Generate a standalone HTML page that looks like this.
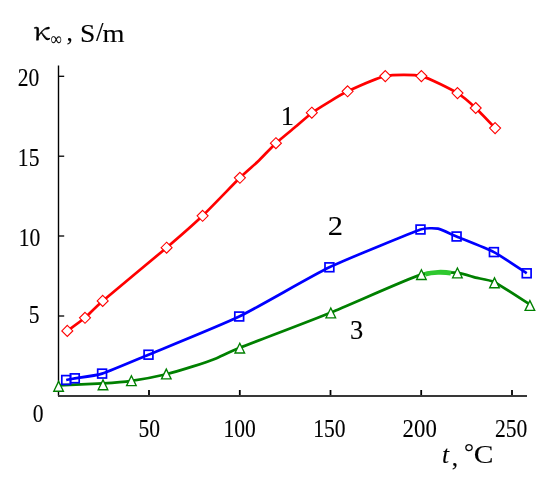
<!DOCTYPE html>
<html><head><meta charset="utf-8">
<style>
html,body{margin:0;padding:0;background:#fff;}
body{width:550px;height:483px;overflow:hidden;position:relative;}
svg{position:absolute;left:0;top:0;}
.ax{stroke:#000;stroke-width:1.4;fill:none;}
.ax2{stroke:#383838;stroke-width:2;fill:none;}
.tk{stroke:#000;stroke-width:1.3;fill:none;}
.tk2{stroke:#000;stroke-width:1.8;fill:none;}
.ln{fill:none;stroke-width:2.7;stroke-linejoin:round;}
.dm{fill:#fff;stroke:#ff0000;stroke-width:1.1;}
.sq{fill:none;stroke:#0000ff;stroke-width:1.7;}
.tr{fill:#fff;stroke:#008000;stroke-width:1.35;stroke-linejoin:miter;}
text{font-family:"Liberation Serif","Times New Roman",serif;fill:#000;stroke:#000;stroke-width:0.1;}
</style></head><body>
<svg width="550" height="483" viewBox="0 0 550 483">
<path d="M58.5,65.5 V396" class="ax"/>
<path d="M58,396 H527" class="ax2"/>
<path d="M58,76.3 H64.2" class="tk"/>
<path d="M58,156.2 H64.2" class="tk"/>
<path d="M58,236.0 H64.2" class="tk"/>
<path d="M58,316.0 H64.2" class="tk"/>
<path d="M149.0,390 V395" class="tk2"/>
<path d="M239.8,390 V395" class="tk2"/>
<path d="M330.5,390 V395" class="tk2"/>
<path d="M421.2,390 V395" class="tk2"/>
<path d="M512.0,390 V395" class="tk2"/>
<path d="M67.30,330.90 C69.07,329.59 81.46,320.80 85.00,317.80 C88.54,314.80 94.54,307.91 102.70,300.90 C110.86,293.89 156.61,256.21 166.60,247.70 C176.59,239.19 195.27,222.79 202.60,215.80 C209.93,208.81 234.37,183.23 239.90,177.80 C245.43,172.37 254.30,164.96 257.90,161.50 C261.50,158.04 272.04,146.75 275.90,143.20 C279.76,139.65 292.91,129.02 296.50,126.00 C300.09,122.98 308.65,115.34 311.80,113.00 C314.95,110.66 324.42,104.77 328.00,102.60 C331.58,100.43 341.87,93.95 347.60,91.30 C353.33,88.65 377.92,77.62 385.30,76.10 C392.68,74.58 414.18,74.40 421.40,76.10 C428.62,77.80 452.07,89.91 457.50,93.10 C462.93,96.29 471.94,104.50 475.70,108.00 C479.46,111.50 493.16,126.09 495.10,128.10" class="ln" stroke="#ff0000"/>
<path d="M66.20,380.00 C67.06,379.83 71.21,378.94 74.80,378.30 C78.39,377.66 94.73,375.96 102.10,373.60 C109.47,371.24 134.79,360.41 148.50,354.70 C162.21,348.99 221.11,325.24 239.20,316.50 C257.29,307.76 311.27,276.00 329.40,267.30 C347.53,258.60 416.16,231.04 420.50,229.50 C424.84,227.96 434.39,228.00 438.00,228.70 C441.61,229.40 451.01,234.16 456.60,236.50 C462.19,238.84 486.89,248.42 493.90,252.10 C500.91,255.78 523.42,271.18 526.70,273.30" class="ln" stroke="#0000ff"/>
<path d="M58.60,385.30 C63.04,385.11 95.72,383.84 103.00,383.40 C110.28,382.96 125.07,381.82 131.40,380.90 C137.73,379.98 160.14,375.65 166.30,374.20 C172.46,372.75 188.03,367.98 193.00,366.40 C197.97,364.82 211.32,360.26 216.00,358.40 C220.68,356.54 228.35,352.37 239.80,347.80 C251.25,343.23 312.34,320.04 330.50,312.70 C348.66,305.36 408.71,278.38 421.40,274.40 C434.09,270.42 451.99,272.58 457.40,272.90 C462.81,273.22 471.79,276.67 475.50,277.60 C479.21,278.53 489.06,279.50 494.50,282.20 C499.94,284.90 526.36,302.36 529.90,304.60" class="ln" stroke="#008000"/>
<path d="M425,274.2 C432,271.9 444,271.7 451,273.2" fill="none" stroke="#2ec82e" stroke-width="4.8" stroke-linecap="butt"/>
<path d="M67.30,325.40 L72.80,330.90 L67.30,336.40 L61.80,330.90 Z" class="dm"/>
<path d="M85.00,312.30 L90.50,317.80 L85.00,323.30 L79.50,317.80 Z" class="dm"/>
<path d="M102.70,295.40 L108.20,300.90 L102.70,306.40 L97.20,300.90 Z" class="dm"/>
<path d="M166.60,242.20 L172.10,247.70 L166.60,253.20 L161.10,247.70 Z" class="dm"/>
<path d="M202.60,210.30 L208.10,215.80 L202.60,221.30 L197.10,215.80 Z" class="dm"/>
<path d="M239.90,172.30 L245.40,177.80 L239.90,183.30 L234.40,177.80 Z" class="dm"/>
<path d="M275.90,137.70 L281.40,143.20 L275.90,148.70 L270.40,143.20 Z" class="dm"/>
<path d="M311.80,107.20 L317.30,112.70 L311.80,118.20 L306.30,112.70 Z" class="dm"/>
<path d="M347.60,85.80 L353.10,91.30 L347.60,96.80 L342.10,91.30 Z" class="dm"/>
<path d="M385.30,70.60 L390.80,76.10 L385.30,81.60 L379.80,76.10 Z" class="dm"/>
<path d="M421.40,70.60 L426.90,76.10 L421.40,81.60 L415.90,76.10 Z" class="dm"/>
<path d="M457.50,87.60 L463.00,93.10 L457.50,98.60 L452.00,93.10 Z" class="dm"/>
<path d="M475.70,102.50 L481.20,108.00 L475.70,113.50 L470.20,108.00 Z" class="dm"/>
<path d="M495.10,122.60 L500.60,128.10 L495.10,133.60 L489.60,128.10 Z" class="dm"/>
<rect x="61.80" y="375.60" width="8.80" height="8.80" class="sq"/>
<rect x="70.40" y="373.90" width="8.80" height="8.80" class="sq"/>
<rect x="97.70" y="369.20" width="8.80" height="8.80" class="sq"/>
<rect x="144.10" y="350.30" width="8.80" height="8.80" class="sq"/>
<rect x="234.80" y="312.10" width="8.80" height="8.80" class="sq"/>
<rect x="325.00" y="262.90" width="8.80" height="8.80" class="sq"/>
<rect x="416.10" y="225.10" width="8.80" height="8.80" class="sq"/>
<rect x="452.20" y="232.10" width="8.80" height="8.80" class="sq"/>
<rect x="489.50" y="247.70" width="8.80" height="8.80" class="sq"/>
<rect x="522.30" y="268.90" width="8.80" height="8.80" class="sq"/>
<path d="M58.60,381.40 L63.40,391.20 L53.80,391.20 Z" class="tr"/>
<path d="M103.00,379.90 L107.80,389.70 L98.20,389.70 Z" class="tr"/>
<path d="M131.40,375.80 L136.20,385.60 L126.60,385.60 Z" class="tr"/>
<path d="M166.30,369.10 L171.10,378.90 L161.50,378.90 Z" class="tr"/>
<path d="M239.80,343.20 L244.60,353.00 L235.00,353.00 Z" class="tr"/>
<path d="M330.80,308.00 L335.60,317.80 L326.00,317.80 Z" class="tr"/>
<path d="M421.40,269.70 L426.20,279.50 L416.60,279.50 Z" class="tr"/>
<path d="M457.40,268.00 L462.20,277.80 L452.60,277.80 Z" class="tr"/>
<path d="M494.50,277.90 L499.30,287.70 L489.70,287.70 Z" class="tr"/>
<path d="M529.90,300.60 L534.70,310.40 L525.10,310.40 Z" class="tr"/>
<text x="0" y="0" font-size="24.5" text-anchor="end" transform="translate(39.30 86.00) scale(0.88 1)">20</text>
<text x="0" y="0" font-size="24.5" text-anchor="end" transform="translate(39.40 165.50) scale(0.88 1)">15</text>
<text x="0" y="0" font-size="24.5" text-anchor="end" transform="translate(40.30 245.50) scale(0.88 1)">10</text>
<text x="0" y="0" font-size="24.5" text-anchor="end" transform="translate(39.40 323.20) scale(0.88 1)">5</text>
<text x="0" y="0" font-size="24.5" text-anchor="end" transform="translate(43.60 421.90) scale(0.88 1)">0</text>
<text x="0" y="0" font-size="24.5" text-anchor="middle" transform="translate(149.30 436.90) scale(0.88 1)">50</text>
<text x="0" y="0" font-size="24.5" text-anchor="middle" transform="translate(239.60 436.90) scale(0.88 1)">100</text>
<text x="0" y="0" font-size="24.5" text-anchor="middle" transform="translate(329.40 436.90) scale(0.88 1)">150</text>
<text x="0" y="0" font-size="24.5" text-anchor="middle" transform="translate(419.70 436.90) scale(0.93 1)">200</text>
<text x="0" y="0" font-size="24.5" text-anchor="middle" transform="translate(511.10 436.90) scale(0.88 1)">250</text>
<text x="280.7" y="124.9" font-size="26.5">1</text>
<text font-size="26.5" style="stroke-width:0.1" transform="translate(327.85 235.4) scale(1.15 1)">2</text>
<text x="349.9" y="338.5" font-size="26.5" style="stroke-width:0.1">3</text>
<text font-size="24" style="font-family:'Noto Serif CJK SC','Liberation Serif',serif;stroke-width:0.35" transform="translate(33.13 39.8) scale(1.25 1)">κ</text>
<text font-size="18.5" transform="translate(50.61 44.9) scale(0.84 1)">∞</text>
<text font-size="25.5" x="66.5" y="41.2">,</text>
<text font-size="25.5" transform="translate(80.05 41.9) scale(1.08 1)">S</text>
<text font-size="27" x="96.1" y="41.4">/</text>
<text font-size="26" transform="translate(102.4 41.7) scale(1.09 1)">m</text>
<text font-size="25.5" x="442" y="462.9" font-style="italic">t</text>
<text font-size="25.5" x="451.7" y="465.6">,</text>
<text font-size="25" x="464" y="459.8">°</text>
<text font-size="25" transform="translate(473.7 463) scale(1.18 1)">C</text>
</svg>
</body></html>
